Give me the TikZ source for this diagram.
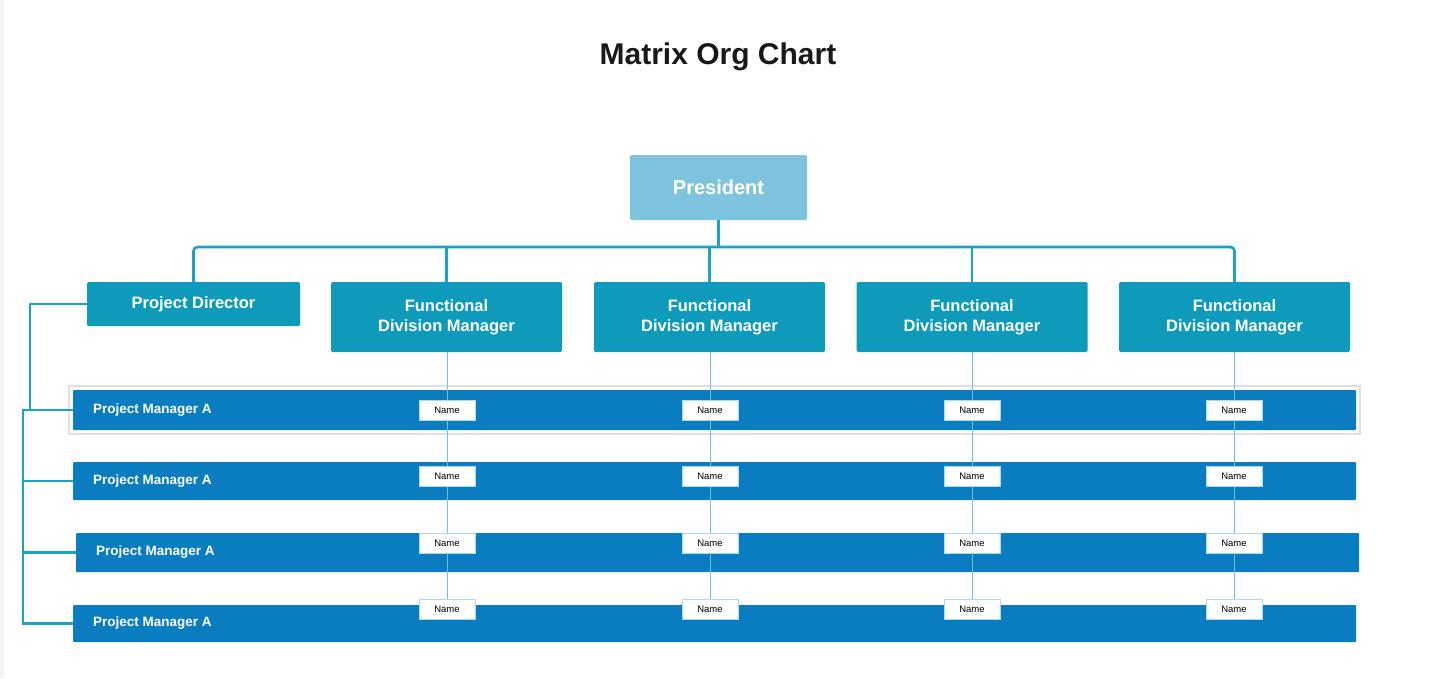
\documentclass[tikz,border=0pt]{standalone}
\usepackage{fontspec}
\setmainfont{Liberation Sans}
\definecolor{pres}{HTML}{7EC4DF}
\definecolor{mgr}{HTML}{0E9BBB}
\definecolor{bar}{HTML}{0A7DC0}
\definecolor{link}{HTML}{1BA3C4}
\definecolor{thin}{HTML}{6CC3DC}
\tikzset{
  president/.style={fill=pres,rounded corners=1.5pt,text=white,font=\bfseries\fontsize{20}{24}\selectfont,inner sep=0pt},
  mgrbox/.style={fill=mgr,rounded corners=1.5pt,text=white,font=\bfseries\fontsize{16.5}{20}\selectfont,align=center,inner sep=0pt},
  barbox/.style={fill=bar,rounded corners=1pt,inner sep=0pt},
  bartext/.style={text=white,font=\bfseries\fontsize{13.5}{16}\selectfont,anchor=west,inner sep=0pt},
  namebox/.style={fill=white,draw=thin!60,line width=0.6pt,minimum width=56pt,minimum height=20pt,inner sep=0pt,font=\fontsize{9.5}{11}\selectfont},
  thick link/.style={draw=link,line width=2.6pt},
  thin link/.style={draw=thin,line width=0.8pt}
}
\begin{document}
\begin{tikzpicture}[x=1pt,y=-1pt]
\useasboundingbox (0,0) rectangle (1430,678);
\fill[white] (0,0) rectangle (1430,678);
\fill[black!4] (0,0) rectangle (4,678);
\node[font=\bfseries\fontsize{30}{36}\selectfont,text=black!90] (title) at (718,57) {Matrix Org Chart};
\node[president,minimum width=177pt,minimum height=65pt] (pres) at (718.5,187.5) {President};
\node[mgrbox,minimum width=213pt,minimum height=44pt] (pd) at (193.5,304) {Project Director};
\foreach \i/\x in {1/446.5,2/709.5,3/972,4/1234.5}{
  \node[mgrbox,minimum width=231pt,minimum height=70pt] (f\i) at (\x,317) {Functional\\Division Manager};
}
% bars
\draw[black!12,line width=1.5pt] (69,386) rectangle (1360,434);
\node[barbox,minimum width=1283pt,minimum height=40pt] (b1) at (714.5,410) {};
\node[barbox,minimum width=1283pt,minimum height=38pt] (b2) at (714.5,481) {};
\node[barbox,minimum width=1283pt,minimum height=39pt] (b3) at (717.5,552.5) {};
\node[barbox,minimum width=1283pt,minimum height=37pt] (b4) at (714.5,623.5) {};
\node[bartext] (t1) at (93,410) {Project Manager A};
\node[bartext] (t2) at (93,481) {Project Manager A};
\node[bartext] (t3) at (96,552) {Project Manager A};
\node[bartext] (t4) at (93,623) {Project Manager A};
% thin verticals and name boxes
\foreach \i/\x in {1/447,2/710,3/972,4/1234}{
  \node[namebox] (n1\i) at (\x,410) {Name};
  \node[namebox] (n2\i) at (\x,476) {Name};
  \node[namebox] (n3\i) at (\x,543) {Name};
  \node[namebox] (n4\i) at (\x,609) {Name};
  \begin{scope}[on background layer/.try]
  \end{scope}
}
\begin{scope}
\foreach \i/\x in {1/447,2/710,3/972,4/1234}{
  \draw[thin link] (f\i.south -| n1\i) -- (n1\i.north);
  \draw[thin link] (n1\i.south) -- (n2\i.north);
  \draw[thin link] (n2\i.south) -- (n3\i.north);
  \draw[thin link] (n3\i.south) -- (n4\i.north);
}
\end{scope}
% thick tree
\coordinate (hub) at (718.5,247);
\draw[thick link,rounded corners=3pt] (pres.south) -- (hub);
\draw[thick link,rounded corners=4pt] (pd.north) -- (pd.north |- hub) -- (f4.north |- hub) -- (f4.north);
\foreach \i in {1,2,3}{ \draw[thick link,rounded corners=4pt] (f\i.north |- hub) -- (f\i.north); }
% left connectors
\coordinate (l1) at (30,304);
\coordinate (l2) at (23,410);
\draw[thick link] (pd.west) -- (l1) -- (30,410);
\draw[thick link] (b1.west) -- (l2) -- (23,623.5) -- (b4.west);
\draw[thick link] (23,481) -- (b2.west);
\draw[thick link] (23,552.5) -- (b3.west);
\end{tikzpicture}
\end{document}
